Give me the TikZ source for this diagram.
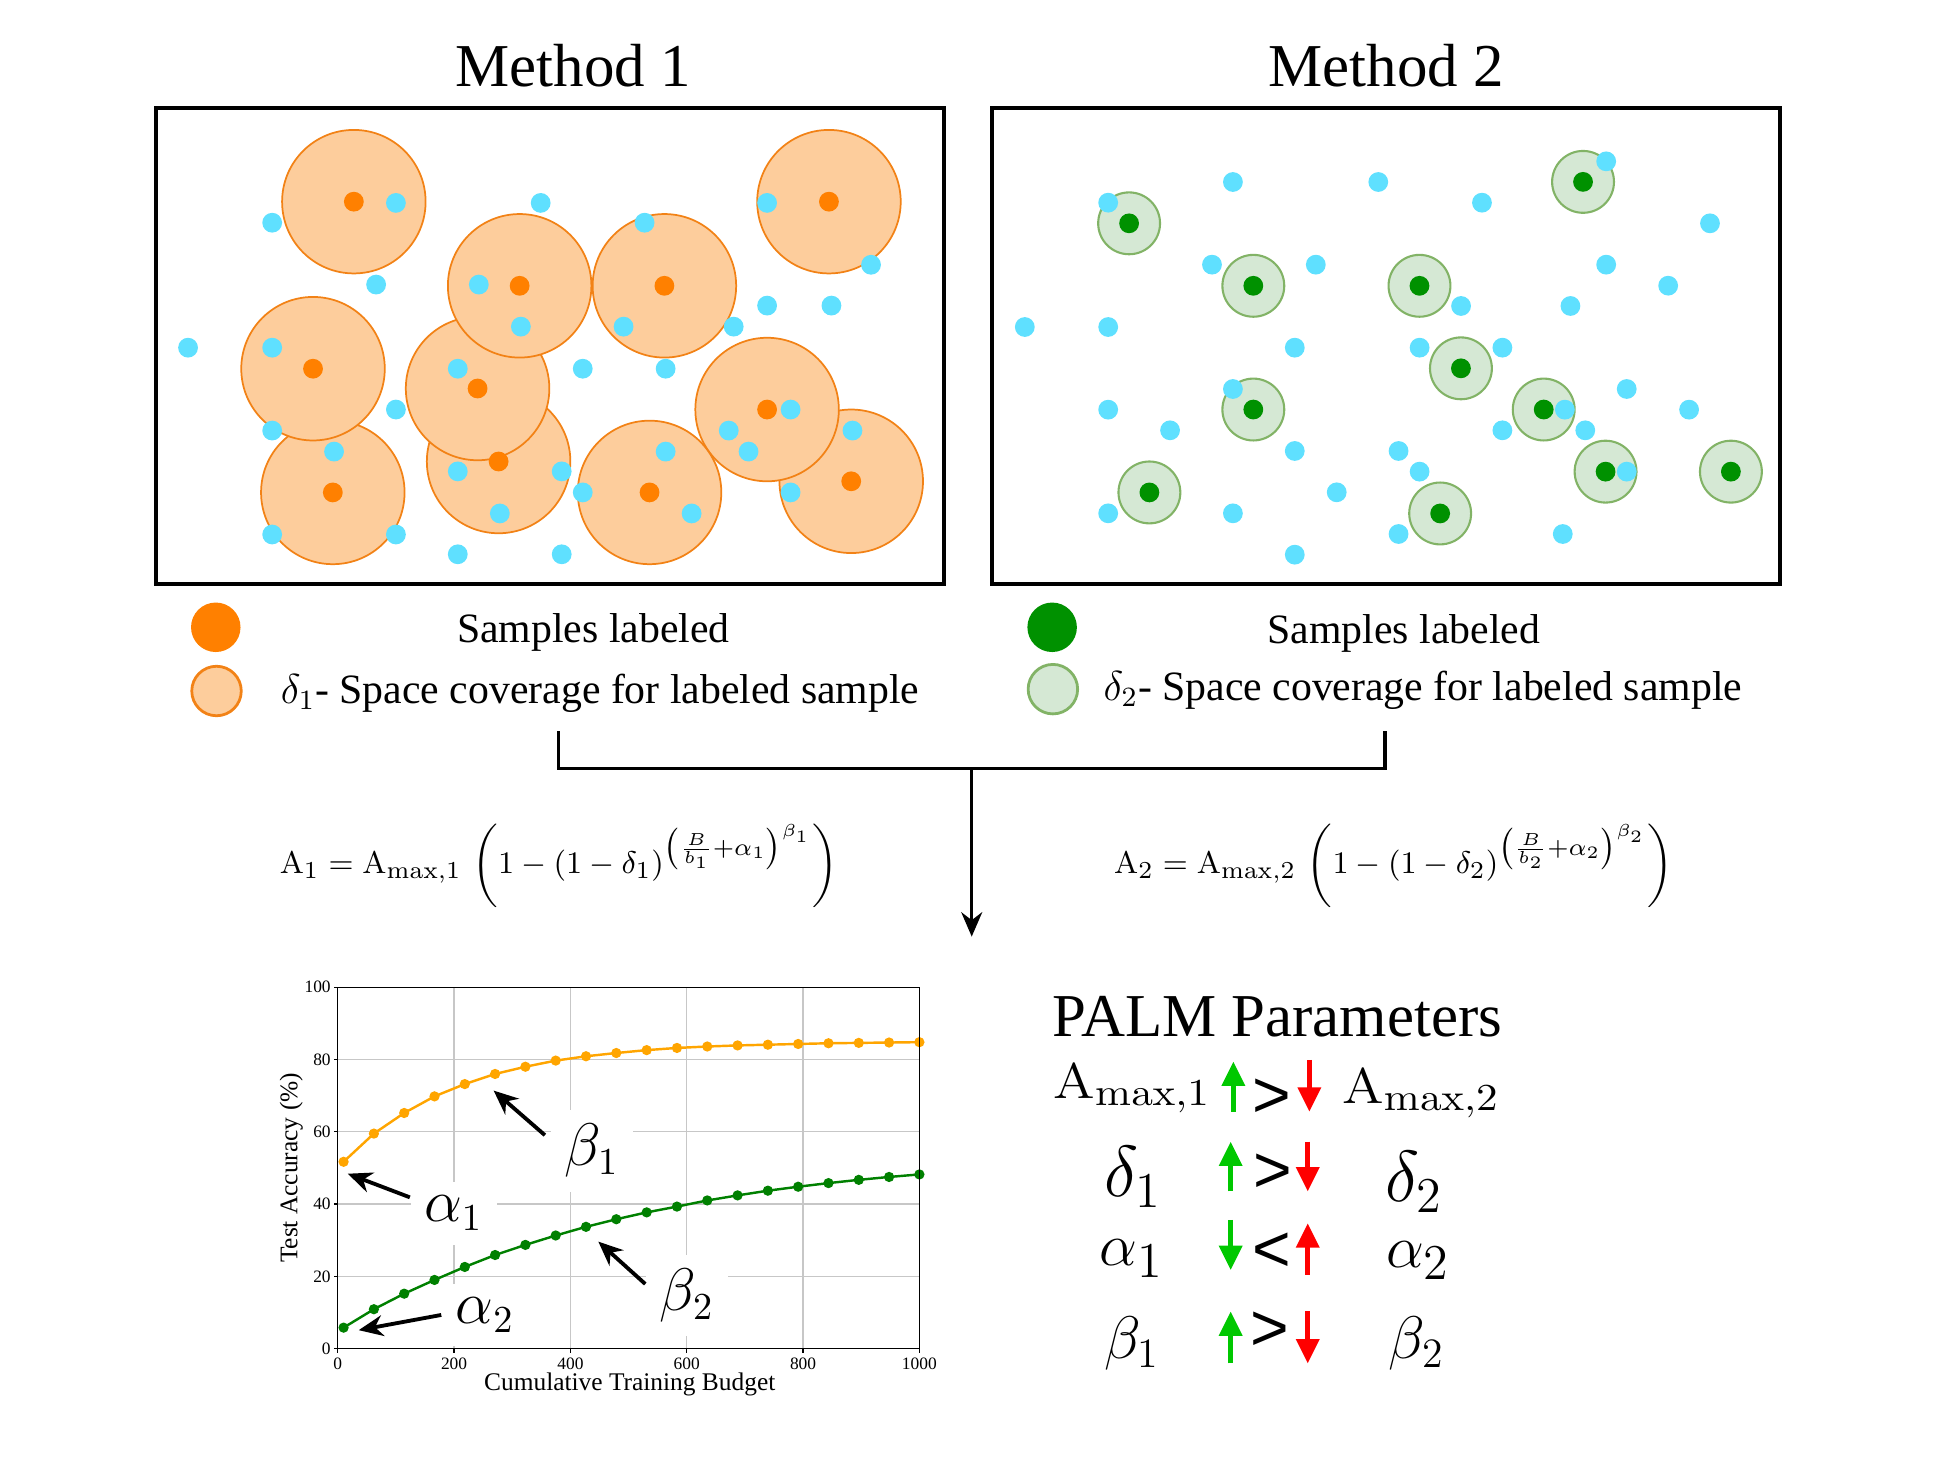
\documentclass[tikz,border=0pt]{standalone}
\usepackage[no-math]{fontspec}
\setmainfont{Liberation Serif}
\newfontfamily\cmpfont{Liberation Sans}
\usetikzlibrary{arrows.meta, positioning, calc}
\definecolor{labeledorange}{RGB}{255,128,0}
\definecolor{coverorange}{RGB}{253,205,156}
\definecolor{coverorangeline}{RGB}{242,130,22}
\definecolor{unlabeledblue}{RGB}{95,224,255}
\definecolor{labeledgreen}{RGB}{0,145,0}
\definecolor{covergreen}{RGB}{213,232,212}
\definecolor{covergreenline}{RGB}{130,179,102}
\definecolor{curveorange}{RGB}{255,165,0}
\definecolor{curvegreen}{RGB}{0,128,0}
\definecolor{upgreen}{RGB}{0,200,0}
\definecolor{downred}{RGB}{255,0,0}

\begin{document}
\begin{tikzpicture}[
    x=0.0125cm, y=-0.0125cm,
    panel/.style={draw, line width=1.2pt},
    cover1/.style={draw=coverorangeline, fill=coverorange, line width=0.5pt},
    cover2/.style={draw=covergreenline, fill=covergreen, line width=0.6pt},
    title/.style={font=\fontsize{17.5}{21}\selectfont, inner sep=0pt},
    legtext/.style={font=\fontsize{12}{14}\selectfont, inner sep=0pt},
    formula/.style={font=\fontsize{9.4}{12}\selectfont, inner sep=0pt},
    bracket/.style={line width=1pt},
    flow/.style={-{Stealth[length=7pt, width=6pt]}, line width=1pt},
    gridline/.style={draw=black!22, line width=0.35pt},
    axisline/.style={draw=black, line width=0.4pt},
    curve1/.style={color=curveorange, line width=0.7pt, mark=*, mark size=1.1pt},
    curve2/.style={color=curvegreen, line width=0.7pt, mark=*, mark size=1.1pt},
    ticklab/.style={font=\fontsize{5}{6}\selectfont, inner sep=0pt},
    axlab/.style={font=\fontsize{7.3}{8}\selectfont, inner sep=0pt},
    greek/.style={font=\fontsize{16}{18}\selectfont, fill=white, inner sep=4pt},
    plotarrow/.style={-{Stealth[length=7pt, width=6pt]}, line width=1.1pt},
    param/.style={inner sep=0pt},
    cmp/.style={font=\cmpfont\fontsize{19}{21}\selectfont, inner sep=0pt},
    uparr/.style={-{Triangle[length=7pt, width=6.5pt]}, line width=1.4pt, draw=upgreen},
    downarr/.style={-{Triangle[length=7pt, width=6.5pt]}, line width=1.4pt, draw=downred}
]
\useasboundingbox (0,0) rectangle (1568,1193);

% Titles
\node[title, anchor=base] (title1) at (463.4,70) {Method 1};
\node[title, anchor=base] (title2) at (1120.5,70) {Method 2};

% Method 1 panel
\draw[panel] (126,87) rectangle (763,472);
\foreach \cx/\cy in {403/373, 386/314, 420/231, 269/398, 253/298, 688/389, 620/331, 286/163, 537/231, 670/163, 525/398}
    \draw[cover1] (\cx,\cy) circle (58);
\foreach \cx/\cy in {403/373, 386/314, 420/231, 269/398, 253/298, 688/389, 620/331, 286/163, 537/231, 670/163, 525/398}
    \fill[labeledorange] (\cx,\cy) circle (8);
\foreach \cx/\cy in {320/164, 220/180, 437/164, 304/230, 521/180, 620/164, 704/214, 387/230, 421/264, 504/264,
    593/264, 620/247, 672/247, 152/281, 220/281, 370/298, 471/298, 538/298, 320/331, 220/348,
    639/331, 589/348, 689/348, 605/365, 538/365, 270/365, 370/381, 454/381, 471/398, 404/415,
    559/415, 639/398, 220/432, 320/432, 370/448, 454/448}
    \fill[unlabeledblue] (\cx,\cy) circle (8);

% Method 2 panel
\draw[panel] (802,87) rectangle (1439,472);
\foreach \cx/\cy in {912.6/180.5, 1013/231, 1147.3/231, 1279.5/147, 1180.8/297.7, 1013/331, 1247.7/331, 929/398, 1164/415, 1297.7/381.2, 1399/381.2}
    \draw[cover2] (\cx,\cy) circle (25);
\foreach \cx/\cy in {912.6/180.5, 1013/231, 1147.3/231, 1279.5/147, 1180.8/297.7, 1013/331, 1247.7/331, 929/398, 1164/415, 1297.7/381.2, 1399/381.2}
    \fill[labeledgreen] (\cx,\cy) circle (8);
\foreach \cx/\cy in {996.5/147.1, 1114/147.1, 1197.8/163.8, 1298.2/130.4, 895.7/163.8, 1382.1/180.5, 979.6/213.9, 1063.5/213.9,
    1298.2/213.9, 1348.3/230.9, 1180.9/247.3, 1269.3/247.3, 828.3/264.3, 895.7/264.3, 1046.5/281, 1147.4/281,
    1214.3/281, 996.5/314.4, 1314.8/314.4, 895.7/331.1, 1264.8/331.1, 1365.2/331.1, 945.7/347.8, 1214.3/347.8,
    1281.3/347.8, 1046.5/364.5, 1130.4/364.5, 1147.4/381.2, 1314.8/381.2, 1080.4/397.9, 895.7/414.9, 996.5/414.9,
    1130.4/431.6, 1263.1/431.6, 1046.5/448.3}
    \fill[unlabeledblue] (\cx,\cy) circle (8);

% Legends
\fill[labeledorange] (174.4,507) circle (20);
\draw[cover1, line width=0.8pt] (175,558.5) circle (20);
\node[legtext, anchor=base] (leg1a) at (479.6,519.5) {Samples labeled};
\node[legtext, anchor=base west] (leg1b) at (226.4,568.5) {$\delta_1$- Space coverage for labeled sample};
\fill[labeledgreen] (850.4,507) circle (20);
\draw[cover2, line width=0.8pt] (851,557) circle (20);
\node[legtext, anchor=base] (leg2a) at (1134.6,520) {Samples labeled};
\node[legtext, anchor=base west] (leg2b) at (891.4,566) {$\delta_2$- Space coverage for labeled sample};

% Bracket joining both methods
\coordinate (brL) at (451.3,591);
\coordinate (brLb) at (451.3,621);
\coordinate (brR) at (1119.5,591);
\coordinate (brRb) at (1119.5,621);
\coordinate (brM) at (785.4,621);
\coordinate (eqgap) at (785.4,757);
\draw[bracket] (brL) -- (brLb) -- (brRb) -- (brR);
\draw[flow] (brM) -- (eqgap);

% PALM equations
\node[formula, anchor=base west] (eq1) at (225.6,706)
    {$\displaystyle \mathrm{A}_1=\mathrm{A}_{\mathrm{max},1}\,\left(1-(1-\delta_1)^{\left(\frac{B}{b_1}+\alpha_1\right)^{\beta_1}}\right)$};
\node[formula, anchor=base west] (eq2) at (900,706)
    {$\displaystyle \mathrm{A}_2=\mathrm{A}_{\mathrm{max},2}\,\left(1-(1-\delta_2)^{\left(\frac{B}{b_2}+\alpha_2\right)^{\beta_2}}\right)$};

% Accuracy curves
\begin{scope}[shift={(273,1090)}, x=0.005875cm, y=0.0365cm]
    \foreach \gx in {200,400,600,800}
        \draw[gridline] (\gx,0) -- (\gx,100);
    \foreach \gy in {20,40,60,80}
        \draw[gridline] (0,\gy) -- (1000,\gy);
    \draw[curve1] plot coordinates {(10,51.7) (62.1,59.5) (114.2,65.2) (166.3,69.8) (218.4,73.2) (270.5,76.0) (322.6,78.0)
        (374.7,79.7) (426.8,80.9) (478.9,81.8) (531.1,82.6) (583.2,83.2) (635.3,83.6) (687.4,83.9) (739.5,84.1)
        (791.6,84.3) (843.7,84.5) (895.8,84.6) (947.9,84.7) (1000,84.8)};
    \draw[curve2] plot coordinates {(10,5.8) (62.1,10.9) (114.2,15.2) (166.3,19.0) (218.4,22.6) (270.5,25.9) (322.6,28.7)
        (374.7,31.3) (426.8,33.7) (478.9,35.8) (531.1,37.7) (583.2,39.3) (635.3,41.0) (687.4,42.4) (739.5,43.7)
        (791.6,44.8) (843.7,45.8) (895.8,46.7) (947.9,47.5) (1000,48.2)};
    \draw[axisline] (0,0) rectangle (1000,100);
    \foreach \gx in {0,200,...,1000} {
        \draw[axisline] (\gx,0) -- (\gx,-1.2);
        \node[ticklab, anchor=north] at (\gx,-2.3) {\gx};
    }
    \foreach \gy in {0,20,...,100} {
        \draw[axisline] (0,\gy) -- (-7,\gy);
        \node[ticklab, anchor=east] at (-11,\gy) {\gy};
    }
    \node[axlab, anchor=base] (xlab) at (502,-11.5) {Cumulative Training Budget};
    \node[axlab, rotate=90] (ylab) at (-80,50) {Test Accuracy (\%)};
    \coordinate (a1tip) at (17.2,48.4);
    \coordinate (b1tip) at (268,71.4);
    \coordinate (a2tip) at (36,5.1);
    \coordinate (b2tip) at (448,29.6);
\end{scope}

% Curve annotations
\node[greek] (a1lab) at (366.6,980.6) {$\alpha_1$};
\node[greek] (b1lab) at (478.3,930.2) {$\beta_1$};
\node[greek] (a2lab) at (392,1062.8) {$\alpha_2$};
\node[greek] (b2lab) at (555.2,1046.8) {$\beta_2$};
\draw[plotarrow] (a1lab.160) -- (a1tip);
\draw[plotarrow, shorten <=2pt] (b1lab.165) -- (b1tip);
\draw[plotarrow] (a2lab.west) -- (a2tip);
\draw[plotarrow] (b2lab.165) -- (b2tip);

% PALM parameters
\node[title, anchor=base] (palm) at (1032.5,837.9) {PALM Parameters};
\node[param, font=\fontsize{15}{17}\selectfont, anchor=base west] (amax1) at (851,887.7) {\scalebox{1.13}[1]{$\mathrm{A}_{\mathrm{max},1}$}};
\node[param, font=\fontsize{15}{17}\selectfont, anchor=base west] (amax2) at (1084.4,891.8) {\scalebox{1.13}[1]{$\mathrm{A}_{\mathrm{max},2}$}};
\node[param, font=\fontsize{20}{22}\selectfont] (d1) at (916,951) {$\delta_1$};
\node[param, font=\fontsize{20}{22}\selectfont] (d2) at (1143,955) {$\delta_2$};
\node[param, font=\fontsize{19}{21}\selectfont] (al1) at (914.6,1017) {$\alpha_1$};
\node[param, font=\fontsize{19}{21}\selectfont] (al2) at (1146.4,1019) {$\alpha_2$};
\node[param, font=\fontsize{17}{19}\selectfont] (be1) at (914.7,1086) {$\beta_1$};
\node[param, font=\fontsize{17}{19}\selectfont] (be2) at (1145,1086) {$\beta_2$};
\node[cmp] (cmp1) at (1028,887.5) {>};
\node[cmp] (cmp2) at (1029,948.5) {>};
\node[cmp] (cmp3) at (1028,1012) {<};
\node[cmp] (cmp4) at (1026,1076) {>};
\draw[uparr] (996.9,898.5) -- (996.9,858);
\draw[downarr] (1058.3,856.7) -- (1058.3,898.5);
\draw[uparr] (994.7,963) -- (994.7,922.7);
\draw[downarr] (1057,922.7) -- (1057,963);
\draw[uparr] (994.7,986) -- (994.7,1026.5);
\draw[downarr] (1057,1030.5) -- (1057,988.7);
\draw[uparr] (994.7,1102) -- (994.7,1060);
\draw[downarr] (1057,1060) -- (1057,1102);

\end{tikzpicture}
\end{document}
